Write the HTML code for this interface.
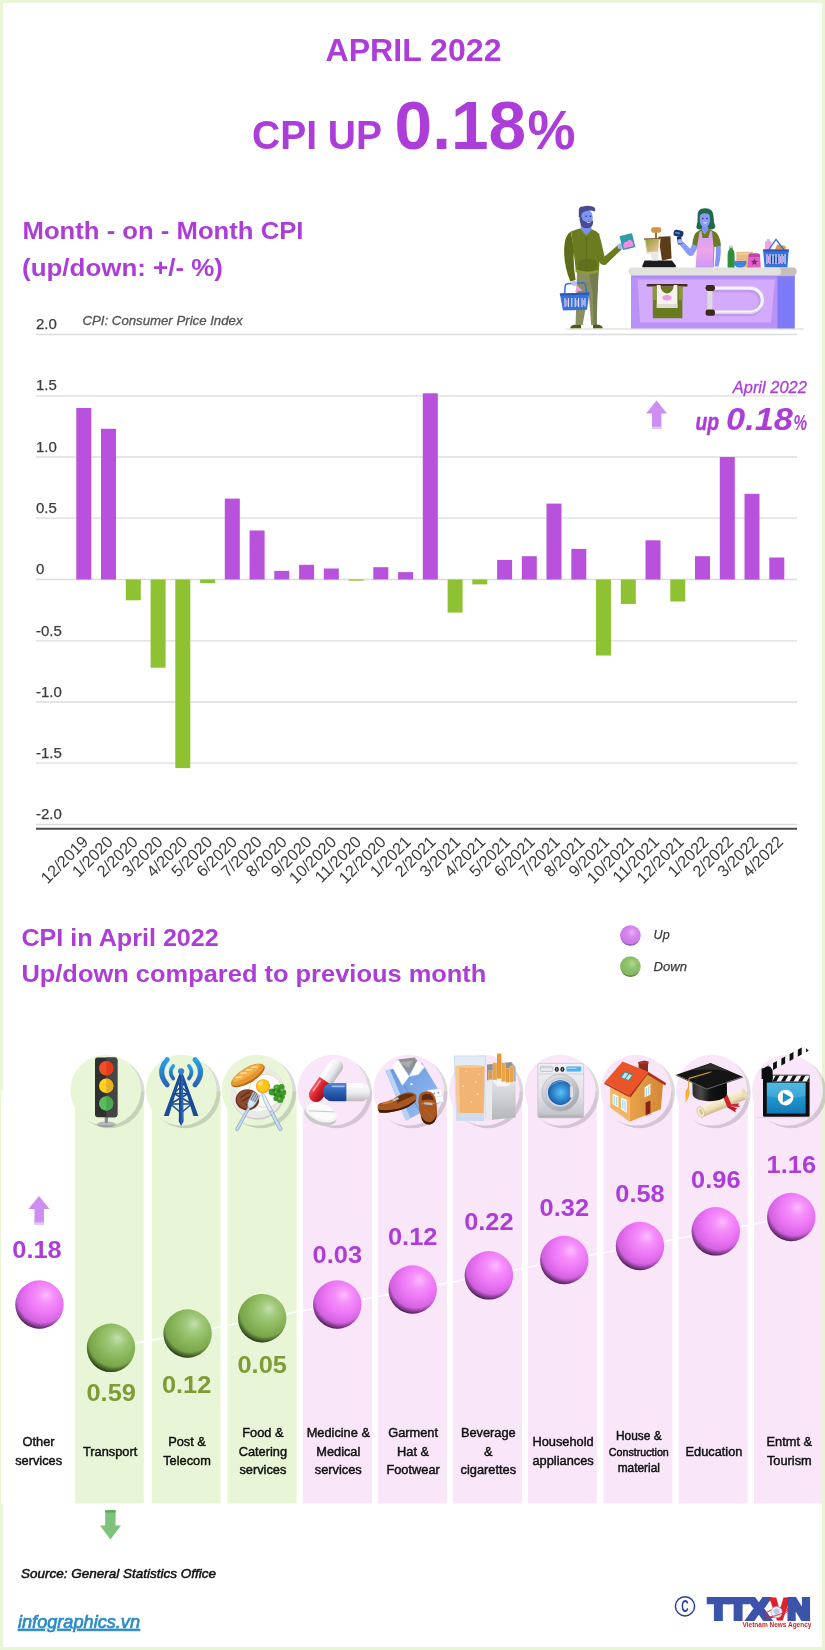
<!DOCTYPE html>
<html lang="en"><head><meta charset="utf-8"><title>April 2022 CPI up 0.18%</title>
<style>html,body{margin:0;padding:0;background:#fff}body{width:825px;height:1650px;overflow:hidden}svg{display:block;filter:grayscale(0)}text{font-family:'Liberation Sans', Arial, sans-serif}</style></head><body>
<svg width="825" height="1650" viewBox="0 0 825 1650">
<defs>
<radialGradient id="ballP" cx="0.6" cy="0.36" r="0.66" fx="0.64" fy="0.3">
<stop offset="0" stop-color="#fcbcfe"/><stop offset="0.25" stop-color="#f590fb"/><stop offset="0.55" stop-color="#ec76f5"/><stop offset="0.85" stop-color="#d060de"/><stop offset="1" stop-color="#b04ec0"/>
</radialGradient>
<radialGradient id="ballShade" cx="0.56" cy="0.36" r="0.7">
<stop offset="0" stop-color="#000" stop-opacity="0"/><stop offset="0.74" stop-color="#000" stop-opacity="0"/><stop offset="0.88" stop-color="#000" stop-opacity="0.4"/><stop offset="1" stop-color="#000" stop-opacity="0.92"/>
</radialGradient>
<radialGradient id="ballG" cx="0.6" cy="0.36" r="0.66" fx="0.64" fy="0.3">
<stop offset="0" stop-color="#c4dfb0"/><stop offset="0.25" stop-color="#a2c97c"/><stop offset="0.55" stop-color="#8bb85c"/><stop offset="0.85" stop-color="#78a44a"/><stop offset="1" stop-color="#5e883a"/>
</radialGradient>
<radialGradient id="legP" cx="0.58" cy="0.36" r="0.62"><stop offset="0" stop-color="#e9b2f8"/><stop offset="0.35" stop-color="#d98af0"/><stop offset="1" stop-color="#c873e6"/></radialGradient>
<radialGradient id="legG" cx="0.58" cy="0.36" r="0.62"><stop offset="0" stop-color="#b4d89a"/><stop offset="0.35" stop-color="#93c570"/><stop offset="1" stop-color="#82b460"/></radialGradient>
<radialGradient id="legShade" cx="0.5" cy="0.38" r="0.66"><stop offset="0.78" stop-color="#000" stop-opacity="0"/><stop offset="1" stop-color="#000" stop-opacity="0.55"/></radialGradient>
<filter id="blur2" x="-20%" y="-20%" width="140%" height="140%"><feGaussianBlur stdDeviation="1.6"/></filter>
<filter id="blur1" x="-20%" y="-20%" width="140%" height="140%"><feGaussianBlur stdDeviation="0.7"/></filter>
<linearGradient id="arcB" x1="0" y1="0" x2="0" y2="1"><stop offset="0" stop-color="#2aa0e6"/><stop offset="1" stop-color="#2a63b6"/></linearGradient>
<linearGradient id="capW" x1="0" y1="0" x2="0" y2="1"><stop offset="0" stop-color="#ffffff"/><stop offset="0.55" stop-color="#ececee"/><stop offset="1" stop-color="#b9b9be"/></linearGradient>
<linearGradient id="capR" x1="0" y1="0" x2="0" y2="1"><stop offset="0" stop-color="#f0565a"/><stop offset="0.5" stop-color="#d81f2a"/><stop offset="1" stop-color="#9c1018"/></linearGradient>
<linearGradient id="capB" x1="0" y1="0" x2="0" y2="1"><stop offset="0" stop-color="#4e86d6"/><stop offset="0.5" stop-color="#2a5fb4"/><stop offset="1" stop-color="#173f86"/></linearGradient>
<linearGradient id="shirtG" x1="0" y1="0" x2="1" y2="1"><stop offset="0" stop-color="#5f92de"/><stop offset="0.6" stop-color="#86b0ea"/><stop offset="1" stop-color="#b5d0f3"/></linearGradient>
<linearGradient id="packG" x1="0" y1="0" x2="0" y2="1"><stop offset="0" stop-color="#e2e3e6"/><stop offset="1" stop-color="#b4b6ba"/></linearGradient>
<linearGradient id="wmBody" x1="0" y1="0" x2="0" y2="1"><stop offset="0" stop-color="#f2f2f5"/><stop offset="0.6" stop-color="#e0e1e6"/><stop offset="0.93" stop-color="#c4c6cc"/><stop offset="1" stop-color="#a4a6ac"/></linearGradient>
<linearGradient id="wmRing" x1="0" y1="0" x2="0.6" y2="1"><stop offset="0" stop-color="#ececef"/><stop offset="1" stop-color="#a6a8b0"/></linearGradient>
<radialGradient id="wmGlass" cx="0.52" cy="0.5" r="0.55"><stop offset="0" stop-color="#5cc4f4"/><stop offset="0.55" stop-color="#2f86cf"/><stop offset="1" stop-color="#1a55a4"/></radialGradient>
<linearGradient id="houseG" x1="0" y1="0" x2="1" y2="0"><stop offset="0" stop-color="#e9a24a"/><stop offset="1" stop-color="#d48836"/></linearGradient>
<linearGradient id="scrollG" x1="0" y1="0" x2="0" y2="1"><stop offset="0" stop-color="#fbf3e0"/><stop offset="0.6" stop-color="#efdfba"/><stop offset="1" stop-color="#cdb588"/></linearGradient>
<linearGradient id="capBase" x1="0" y1="0" x2="1" y2="0"><stop offset="0" stop-color="#2a2a2a"/><stop offset="0.25" stop-color="#4a4a4a"/><stop offset="0.5" stop-color="#141414"/><stop offset="1" stop-color="#0a0a0a"/></linearGradient>
<linearGradient id="clapScreen" x1="0" y1="0" x2="0" y2="1"><stop offset="0" stop-color="#37b0e0"/><stop offset="0.5" stop-color="#1f97cf"/><stop offset="1" stop-color="#1579b4"/></linearGradient>
<linearGradient id="scrG" x1="0" y1="0" x2="1" y2="1"><stop offset="0" stop-color="#8f9f3c"/><stop offset="0.5" stop-color="#c3b06a"/><stop offset="1" stop-color="#edc4a6"/></linearGradient>
<linearGradient id="apronG" x1="0" y1="0" x2="0" y2="1"><stop offset="0" stop-color="#cfa2f4"/><stop offset="0.55" stop-color="#f0a4ea"/><stop offset="1" stop-color="#c99af4"/></linearGradient>
<filter id="blur03" x="-10%" y="-10%" width="120%" height="120%"><feGaussianBlur stdDeviation="0.35"/></filter>
</defs>

<rect x="0" y="0" width="825" height="1650" fill="#e8f6d7"/>
<rect x="3" y="3" width="819" height="1644" fill="#fff"/>
<g fill="#ad3dd8" font-weight="bold">
<text x="413.5" y="61.3" font-size="31" text-anchor="middle" textLength="176" lengthAdjust="spacingAndGlyphs">APRIL 2022</text>
<text x="252" y="148.6" font-size="41.4" textLength="130" lengthAdjust="spacingAndGlyphs">CPI UP</text>
<text x="394.6" y="149.4" font-size="68.6" textLength="131.6" lengthAdjust="spacingAndGlyphs">0.18</text>
<text x="527.4" y="149" font-size="56" textLength="48" lengthAdjust="spacingAndGlyphs">%</text>
<text x="22.5" y="239.3" font-size="24" textLength="281" lengthAdjust="spacingAndGlyphs">Month - on - Month CPI</text>
<text x="22" y="276" font-size="24" textLength="201" lengthAdjust="spacingAndGlyphs">(up/down: +/- %)</text>
</g>
<g stroke="#dcdcdc" stroke-width="1.3">
<line x1="36" x2="797" y1="334.5" y2="334.5"/>
<line x1="36" x2="797" y1="395.8" y2="395.8"/>
<line x1="36" x2="797" y1="457.0" y2="457.0"/>
<line x1="36" x2="797" y1="518.2" y2="518.2"/>
<line x1="36" x2="797" y1="579.5" y2="579.5"/>
<line x1="36" x2="797" y1="640.8" y2="640.8"/>
<line x1="36" x2="797" y1="702.0" y2="702.0"/>
<line x1="36" x2="797" y1="763.2" y2="763.2"/>
<line x1="36" x2="797" y1="824.5" y2="824.5"/>
</g>
<line x1="36" x2="797" y1="828.8" y2="828.8" stroke="#4a4a4a" stroke-width="1.9"/>
<g font-size="15" fill="#3c3c3c" stroke="#3c3c3c" stroke-width="0.25">
<text x="36" y="329.2">2.0</text>
<text x="36" y="390.4">1.5</text>
<text x="36" y="451.7">1.0</text>
<text x="36" y="513.0">0.5</text>
<text x="36" y="574.2">0</text>
<text x="36" y="635.5">-0.5</text>
<text x="36" y="696.7">-1.0</text>
<text x="36" y="758.0">-1.5</text>
<text x="36" y="819.2">-2.0</text>
</g>
<text x="82.5" y="325" font-size="12.6" font-style="italic" fill="#555" stroke="#555" stroke-width="0.3" textLength="160" lengthAdjust="spacingAndGlyphs">CPI: Consumer Price Index</text>
<rect x="76.3" y="408.0" width="15.0" height="171.5" fill="#b852dc"/>
<rect x="101.0" y="428.8" width="15.0" height="150.7" fill="#b852dc"/>
<rect x="125.8" y="579.5" width="15.0" height="20.8" fill="#8fc232"/>
<rect x="150.6" y="579.5" width="15.0" height="88.2" fill="#8fc232"/>
<rect x="175.3" y="579.5" width="15.0" height="188.6" fill="#8fc232"/>
<rect x="200.1" y="579.5" width="15.0" height="3.7" fill="#8fc232"/>
<rect x="224.8" y="498.6" width="15.0" height="80.9" fill="#b852dc"/>
<rect x="249.6" y="530.5" width="15.0" height="49.0" fill="#b852dc"/>
<rect x="274.3" y="570.9" width="15.0" height="8.6" fill="#b852dc"/>
<rect x="299.1" y="564.8" width="15.0" height="14.7" fill="#b852dc"/>
<rect x="323.8" y="568.5" width="15.0" height="11.0" fill="#b852dc"/>
<rect x="348.6" y="579.5" width="15.0" height="1.2" fill="#8fc232"/>
<rect x="373.3" y="567.2" width="15.0" height="12.2" fill="#b852dc"/>
<rect x="398.1" y="572.1" width="15.0" height="7.4" fill="#b852dc"/>
<rect x="422.8" y="393.3" width="15.0" height="186.2" fill="#b852dc"/>
<rect x="447.6" y="579.5" width="15.0" height="33.1" fill="#8fc232"/>
<rect x="472.3" y="579.5" width="15.0" height="4.9" fill="#8fc232"/>
<rect x="497.1" y="559.9" width="15.0" height="19.6" fill="#b852dc"/>
<rect x="521.8" y="556.2" width="15.0" height="23.3" fill="#b852dc"/>
<rect x="546.5" y="503.6" width="15.0" height="75.9" fill="#b852dc"/>
<rect x="571.3" y="548.9" width="15.0" height="30.6" fill="#b852dc"/>
<rect x="596.0" y="579.5" width="15.0" height="76.0" fill="#8fc232"/>
<rect x="620.8" y="579.5" width="15.0" height="24.5" fill="#8fc232"/>
<rect x="645.5" y="540.3" width="15.0" height="39.2" fill="#b852dc"/>
<rect x="670.3" y="579.5" width="15.0" height="22.0" fill="#8fc232"/>
<rect x="695.0" y="556.2" width="15.0" height="23.3" fill="#b852dc"/>
<rect x="719.8" y="457.0" width="15.0" height="122.5" fill="#b852dc"/>
<rect x="744.5" y="493.8" width="15.0" height="85.8" fill="#b852dc"/>
<rect x="769.3" y="557.5" width="15.0" height="22.0" fill="#b852dc"/>
<g font-size="16.3" fill="#3c3c3c" text-anchor="end">
<text transform="translate(89.2,842.8) rotate(-45)" x="0" y="0">12/2019</text>
<text transform="translate(114.0,842.8) rotate(-45)" x="0" y="0">1/2020</text>
<text transform="translate(138.8,842.8) rotate(-45)" x="0" y="0">2/2020</text>
<text transform="translate(163.7,842.8) rotate(-45)" x="0" y="0">3/2020</text>
<text transform="translate(188.5,842.8) rotate(-45)" x="0" y="0">4/2020</text>
<text transform="translate(213.3,842.8) rotate(-45)" x="0" y="0">5/2020</text>
<text transform="translate(238.1,842.8) rotate(-45)" x="0" y="0">6/2020</text>
<text transform="translate(262.9,842.8) rotate(-45)" x="0" y="0">7/2020</text>
<text transform="translate(287.8,842.8) rotate(-45)" x="0" y="0">8/2020</text>
<text transform="translate(312.6,842.8) rotate(-45)" x="0" y="0">9/2020</text>
<text transform="translate(337.4,842.8) rotate(-45)" x="0" y="0">10/2020</text>
<text transform="translate(362.2,842.8) rotate(-45)" x="0" y="0">11/2020</text>
<text transform="translate(387.0,842.8) rotate(-45)" x="0" y="0">12/2020</text>
<text transform="translate(411.9,842.8) rotate(-45)" x="0" y="0">1/2021</text>
<text transform="translate(436.7,842.8) rotate(-45)" x="0" y="0">2/2021</text>
<text transform="translate(461.5,842.8) rotate(-45)" x="0" y="0">3/2021</text>
<text transform="translate(486.3,842.8) rotate(-45)" x="0" y="0">4/2021</text>
<text transform="translate(511.1,842.8) rotate(-45)" x="0" y="0">5/2021</text>
<text transform="translate(536.0,842.8) rotate(-45)" x="0" y="0">6/2021</text>
<text transform="translate(560.8,842.8) rotate(-45)" x="0" y="0">7/2021</text>
<text transform="translate(585.6,842.8) rotate(-45)" x="0" y="0">8/2021</text>
<text transform="translate(610.4,842.8) rotate(-45)" x="0" y="0">9/2021</text>
<text transform="translate(635.2,842.8) rotate(-45)" x="0" y="0">10/2021</text>
<text transform="translate(660.1,842.8) rotate(-45)" x="0" y="0">11/2021</text>
<text transform="translate(684.9,842.8) rotate(-45)" x="0" y="0">12/2021</text>
<text transform="translate(709.7,842.8) rotate(-45)" x="0" y="0">1/2022</text>
<text transform="translate(734.5,842.8) rotate(-45)" x="0" y="0">2/2022</text>
<text transform="translate(759.3,842.8) rotate(-45)" x="0" y="0">3/2022</text>
<text transform="translate(784.2,842.8) rotate(-45)" x="0" y="0">4/2022</text>
</g>
<g fill="#ad3dd8" font-style="italic">
<text x="732.8" y="392.9" font-size="15.7" textLength="74" lengthAdjust="spacingAndGlyphs" stroke="#ad3dd8" stroke-width="0.3">April 2022</text>
<text x="695.4" y="429.8" font-size="24.5" font-weight="bold" textLength="23.6" lengthAdjust="spacingAndGlyphs" stroke="#ad3dd8" stroke-width="0.5">up</text>
<text x="726" y="429.6" font-size="31.5" font-weight="bold" textLength="67" lengthAdjust="spacingAndGlyphs">0.18</text>
<text x="793.4" y="429.6" font-size="21.5" font-weight="bold" textLength="13.6" lengthAdjust="spacingAndGlyphs">%</text>
<path d="M656.6 400.5 L667 413.5 L661.4 413.5 L661.4 428.8 L652 428.8 L652 413.5 L646 413.5 Z" fill="#cd8df3"/>
<rect x="652" y="426.6" width="9.4" height="2.2" fill="#e6c6fa"/>
</g>
<g fill="#ad3dd8" font-weight="bold" font-size="24">
<text x="21.4" y="945.6" textLength="197.4" lengthAdjust="spacingAndGlyphs">CPI in April 2022</text>
<text x="21.4" y="982" textLength="465" lengthAdjust="spacingAndGlyphs">Up/down compared to previous month</text>
</g>
<circle cx="630.4" cy="935.5" r="10.3" fill="url(#legP)"/><circle cx="630.4" cy="935.5" r="10.3" fill="url(#legShade)"/>
<circle cx="630.4" cy="966.6" r="10.3" fill="url(#legG)"/><circle cx="630.4" cy="966.6" r="10.3" fill="url(#legShade)"/>
<g font-size="12.8" font-style="italic" fill="#3a3a3a" stroke="#3a3a3a" stroke-width="0.25"><text x="653.6" y="938.7" textLength="16" lengthAdjust="spacingAndGlyphs">Up</text><text x="653.6" y="970.6" textLength="33.4" lengthAdjust="spacingAndGlyphs">Down</text></g>
<rect x="1" y="1091" width="74" height="413" fill="#fff"/>
<rect x="74.8" y="1091.4" width="69.0" height="412.1" fill="#e8f6d7"/>
<rect x="151.7" y="1091.4" width="69.0" height="412.1" fill="#e8f6d7"/>
<rect x="227.6" y="1091.4" width="69.0" height="412.1" fill="#e8f6d7"/>
<rect x="303.0" y="1091.4" width="69.0" height="412.1" fill="#f9e6f9"/>
<rect x="377.8" y="1091.4" width="69.0" height="412.1" fill="#f9e6f9"/>
<rect x="453.0" y="1091.4" width="69.0" height="412.1" fill="#f9e6f9"/>
<rect x="527.8" y="1091.4" width="69.0" height="412.1" fill="#f9e6f9"/>
<rect x="603.5" y="1091.4" width="69.0" height="412.1" fill="#f9e6f9"/>
<rect x="678.7" y="1091.4" width="69.0" height="412.1" fill="#f9e6f9"/>
<rect x="754.0" y="1091.4" width="68.0" height="412.1" fill="#f9e6f9"/>
<circle cx="109.3" cy="1092.9" r="35.4" fill="#000" opacity="0.14" filter="url(#blur03)"/>
<circle cx="105.7" cy="1090.2" r="35.4" fill="#e8f6d7"/>
<circle cx="185.0" cy="1092.9" r="35.4" fill="#000" opacity="0.14" filter="url(#blur03)"/>
<circle cx="181.4" cy="1090.2" r="35.4" fill="#e8f6d7"/>
<circle cx="260.8" cy="1092.9" r="35.4" fill="#000" opacity="0.14" filter="url(#blur03)"/>
<circle cx="257.2" cy="1090.2" r="35.4" fill="#e8f6d7"/>
<circle cx="336.6" cy="1092.9" r="35.4" fill="#000" opacity="0.14" filter="url(#blur03)"/>
<circle cx="332.9" cy="1090.2" r="35.4" fill="#f9e6f9"/>
<circle cx="412.3" cy="1092.9" r="35.4" fill="#000" opacity="0.14" filter="url(#blur03)"/>
<circle cx="408.7" cy="1090.2" r="35.4" fill="#f9e6f9"/>
<circle cx="488.1" cy="1092.9" r="35.4" fill="#000" opacity="0.14" filter="url(#blur03)"/>
<circle cx="484.4" cy="1090.2" r="35.4" fill="#f9e6f9"/>
<circle cx="563.8" cy="1092.9" r="35.4" fill="#000" opacity="0.14" filter="url(#blur03)"/>
<circle cx="560.2" cy="1090.2" r="35.4" fill="#f9e6f9"/>
<circle cx="639.6" cy="1092.9" r="35.4" fill="#000" opacity="0.14" filter="url(#blur03)"/>
<circle cx="636.0" cy="1090.2" r="35.4" fill="#f9e6f9"/>
<circle cx="715.3" cy="1092.9" r="35.4" fill="#000" opacity="0.14" filter="url(#blur03)"/>
<circle cx="711.7" cy="1090.2" r="35.4" fill="#f9e6f9"/>
<circle cx="791.1" cy="1092.9" r="35.4" fill="#000" opacity="0.14" filter="url(#blur03)"/>
<circle cx="787.5" cy="1090.2" r="35.4" fill="#f9e6f9"/>
<polyline fill="none" stroke="#fff" stroke-width="1.5" points="111.0,1347.8 187.6,1333.5 262.2,1318.2 337.3,1304.5 412.7,1289.5 488.9,1275.3 564.3,1260.0 640.0,1246.0 715.8,1231.3 791.3,1217.0"/>
<circle cx="39.5" cy="1304.5" r="24.2" fill="url(#ballP)"/>
<circle cx="39.5" cy="1304.5" r="24.2" fill="url(#ballShade)"/>
<circle cx="111.0" cy="1347.8" r="24.2" fill="url(#ballG)"/>
<circle cx="111.0" cy="1347.8" r="24.2" fill="url(#ballShade)"/>
<circle cx="187.6" cy="1333.5" r="24.2" fill="url(#ballG)"/>
<circle cx="187.6" cy="1333.5" r="24.2" fill="url(#ballShade)"/>
<circle cx="262.2" cy="1318.2" r="24.2" fill="url(#ballG)"/>
<circle cx="262.2" cy="1318.2" r="24.2" fill="url(#ballShade)"/>
<circle cx="337.3" cy="1304.5" r="24.2" fill="url(#ballP)"/>
<circle cx="337.3" cy="1304.5" r="24.2" fill="url(#ballShade)"/>
<circle cx="412.7" cy="1289.5" r="24.2" fill="url(#ballP)"/>
<circle cx="412.7" cy="1289.5" r="24.2" fill="url(#ballShade)"/>
<circle cx="488.9" cy="1275.3" r="24.2" fill="url(#ballP)"/>
<circle cx="488.9" cy="1275.3" r="24.2" fill="url(#ballShade)"/>
<circle cx="564.3" cy="1260.0" r="24.2" fill="url(#ballP)"/>
<circle cx="564.3" cy="1260.0" r="24.2" fill="url(#ballShade)"/>
<circle cx="640.0" cy="1246.0" r="24.2" fill="url(#ballP)"/>
<circle cx="640.0" cy="1246.0" r="24.2" fill="url(#ballShade)"/>
<circle cx="715.8" cy="1231.3" r="24.2" fill="url(#ballP)"/>
<circle cx="715.8" cy="1231.3" r="24.2" fill="url(#ballShade)"/>
<circle cx="791.3" cy="1217.0" r="24.2" fill="url(#ballP)"/>
<circle cx="791.3" cy="1217.0" r="24.2" fill="url(#ballShade)"/>
<text x="37.0" y="1257.9" font-size="23" font-weight="bold" fill="#ad3dd8" text-anchor="middle" textLength="49.4" lengthAdjust="spacingAndGlyphs">0.18</text>
<text x="111.2" y="1400.6" font-size="23" font-weight="bold" fill="#7d9c35" text-anchor="middle" textLength="49.4" lengthAdjust="spacingAndGlyphs">0.59</text>
<text x="186.6" y="1392.8" font-size="23" font-weight="bold" fill="#7d9c35" text-anchor="middle" textLength="49.4" lengthAdjust="spacingAndGlyphs">0.12</text>
<text x="262.2" y="1372.9" font-size="23" font-weight="bold" fill="#7d9c35" text-anchor="middle" textLength="49.4" lengthAdjust="spacingAndGlyphs">0.05</text>
<text x="337.3" y="1263.4" font-size="23" font-weight="bold" fill="#ad3dd8" text-anchor="middle" textLength="49.4" lengthAdjust="spacingAndGlyphs">0.03</text>
<text x="412.7" y="1244.8" font-size="23" font-weight="bold" fill="#ad3dd8" text-anchor="middle" textLength="49.4" lengthAdjust="spacingAndGlyphs">0.12</text>
<text x="488.9" y="1230.4" font-size="23" font-weight="bold" fill="#ad3dd8" text-anchor="middle" textLength="49.4" lengthAdjust="spacingAndGlyphs">0.22</text>
<text x="564.3" y="1216.4" font-size="23" font-weight="bold" fill="#ad3dd8" text-anchor="middle" textLength="49.4" lengthAdjust="spacingAndGlyphs">0.32</text>
<text x="640.0" y="1202.0" font-size="23" font-weight="bold" fill="#ad3dd8" text-anchor="middle" textLength="49.4" lengthAdjust="spacingAndGlyphs">0.58</text>
<text x="715.8" y="1187.5" font-size="23" font-weight="bold" fill="#ad3dd8" text-anchor="middle" textLength="49.4" lengthAdjust="spacingAndGlyphs">0.96</text>
<text x="791.3" y="1173.1" font-size="23" font-weight="bold" fill="#ad3dd8" text-anchor="middle" textLength="49.4" lengthAdjust="spacingAndGlyphs">1.16</text>
<g font-size="12.8" fill="#111" text-anchor="middle" stroke="#111" stroke-width="0.45">
<text x="38.6" y="1446.2">Other</text>
<text x="38.6" y="1464.8">services</text>
<text x="110.1" y="1455.5">Transport</text>
<text x="187.0" y="1446.2">Post &amp;</text>
<text x="187.0" y="1464.8">Telecom</text>
<text x="262.9" y="1436.9">Food &amp;</text>
<text x="262.9" y="1455.5">Catering</text>
<text x="262.9" y="1474.1">services</text>
<text x="338.3" y="1436.9">Medicine &amp;</text>
<text x="338.3" y="1455.5">Medical</text>
<text x="338.3" y="1474.1">services</text>
<text x="413.1" y="1436.9">Garment</text>
<text x="413.1" y="1455.5">Hat &amp;</text>
<text x="413.1" y="1474.1">Footwear</text>
<text x="488.3" y="1436.9">Beverage</text>
<text x="488.3" y="1455.5">&amp;</text>
<text x="488.3" y="1474.1">cigarettes</text>
<text x="563.1" y="1446.2">Household</text>
<text x="563.1" y="1464.8">appliances</text>
<text x="638.8" y="1439.5" font-size="11.9">House &amp;</text>
<text x="638.8" y="1455.5" font-size="10.7">Construction</text>
<text x="638.8" y="1471.5" font-size="11.9">material</text>
<text x="714.0" y="1455.5">Education</text>
<text x="789.3" y="1446.2">Entmt &amp;</text>
<text x="789.3" y="1464.8">Tourism</text>
</g>
<path d="M39 1196 L49.5 1209 L44 1209 L44 1224.5 L34.5 1224.5 L34.5 1209 L28.5 1209 Z" fill="#cd8df3"/>
<rect x="34.5" y="1222.3" width="9.5" height="2.2" fill="#e6c6fa"/>
<path d="M110.4 1539.4 L121 1525.4 L115.6 1525.4 L115.6 1510.2 L105.2 1510.2 L105.2 1525.4 L100 1525.4 Z" fill="#7cc37c"/>
<rect x="105.2" y="1510.2" width="10.4" height="2.4" fill="#5fa662"/>
<text x="21" y="1578.4" font-size="13.2" font-style="italic" fill="#111" stroke="#111" stroke-width="0.5" textLength="195" lengthAdjust="spacingAndGlyphs">Source: General Statistics Office</text>
<text x="18" y="1628" font-size="18.4" font-style="italic" fill="#2b8bc9" stroke="#2b8bc9" stroke-width="0.7" textLength="122" lengthAdjust="spacingAndGlyphs" text-decoration="underline">infographics.vn</text>
<!-- traffic light -->
<g>
<ellipse cx="106.3" cy="1124.6" rx="9.4" ry="2.6" fill="#9a9a9e"/>
<path d="M97 1125.2 Q97 1121.6 106.3 1121.6 Q115.6 1121.6 115.6 1125.2 Z" fill="#b9b9bd"/>
<rect x="104.7" y="1116" width="3.3" height="7" fill="#8e8e92"/>
<rect x="95" y="1057.6" width="22.4" height="59.6" rx="2.4" fill="#2f2f2f"/>
<path d="M106.2 1057.6 H115 Q117.4 1057.6 117.4 1060 V1114.8 Q117.4 1117.2 115 1117.2 H106.2 Z" fill="#454545"/>
<circle cx="106.2" cy="1068.3" r="7.2" fill="#f04e23"/><path d="M106.2 1061.1 A7.2 7.2 0 0 1 106.2 1075.5 Z" fill="#e23c1c"/>
<circle cx="106.2" cy="1085.8" r="7.2" fill="#ffd41c"/><path d="M106.2 1078.6 A7.2 7.2 0 0 1 106.2 1093 Z" fill="#e9b022"/>
<circle cx="106.2" cy="1103.5" r="7.2" fill="#5cbb5c"/><path d="M106.2 1096.3 A7.2 7.2 0 0 1 106.2 1110.7 Z" fill="#47a84d"/>
</g>
<!-- telecom tower -->
<g>
<g fill="none" stroke-linecap="round" stroke-width="4.3">
<path d="M167.2 1059.6 Q156.2 1072 167.2 1084.8" stroke="url(#arcB)" stroke-width="5"/>
<path d="M195 1059.6 Q206 1072 195 1084.8" stroke="url(#arcB)" stroke-width="5"/>
<path d="M173.2 1066 Q168.2 1072 173.2 1078.4" stroke="url(#arcB)" stroke-width="3.8"/>
<path d="M189 1066 Q194 1072 189 1078.4" stroke="url(#arcB)" stroke-width="3.8"/>
</g>
<g fill="none" stroke="#1d4b98" stroke-linejoin="round">
<path d="M179 1074.5 L181.4 1074.5 L168.8 1116 L163.8 1116 Z M180.8 1074.5 L183.2 1074.5 L198.4 1116 L193.4 1116 Z" fill="#1d4b98" stroke="none"/>
<path d="M176.6 1083.5 L185.8 1083.5 M173.2 1093.5 L189 1093.5 M169.6 1104 L192.6 1104" stroke-width="1.5"/>
<path d="M177.6 1083.5 L188.6 1093.5 M184.8 1083.5 L173.6 1093.5 M174 1093.5 L192 1104 M188.2 1093.5 L170.2 1104 M170.6 1104 L181.1 1113 M191.6 1104 L181.1 1113" stroke-width="1.6"/>
</g>
<path d="M179.4 1072 L182.8 1072 L183.4 1121.5 L181.1 1125.8 L178.8 1121.5 Z" fill="#1b4792"/>
<path d="M181.1 1072 L182.8 1072 L183.4 1121.5 L181.1 1125.8 Z" fill="#2a62b8"/>
<circle cx="181.1" cy="1071.3" r="3.1" fill="#3a7ed0"/>
</g>
<!-- food -->
<g>
<circle cx="257.6" cy="1092.8" r="26.9" fill="#cfcfcc"/>
<circle cx="256.9" cy="1091.4" r="26.6" fill="#eaeae7"/>
<circle cx="256.9" cy="1091.4" r="20.5" fill="#fbfbf9" stroke="#e4e4e0" stroke-width="0.8"/>
<!-- egg white -->
<path d="M250 1086 Q251 1075 262 1074.5 Q273 1073 278.4 1080.6 Q284.6 1088 280 1097 Q278 1106.6 267 1107 Q257.6 1108.4 252.4 1101 Q247 1093 250 1086 Z" fill="#fffefa" stroke="#eadcc0" stroke-width="1"/>
<circle cx="263" cy="1086.2" r="7" fill="#f3a313"/>
<circle cx="262.8" cy="1085.9" r="6" fill="#ffc617"/>
<ellipse cx="260.6" cy="1083.4" rx="2.6" ry="1.8" fill="#ffe27a" transform="rotate(-30 260.6 1083.4)"/>
<!-- bread -->
<g transform="translate(0 -0.8) rotate(-31 247.6 1075.8) translate(247.6 1075.8) scale(1.04) translate(-247.6 -1075.8)">
<ellipse cx="247.6" cy="1076.6" rx="18.3" ry="7" fill="#b4661a"/>
<ellipse cx="247.6" cy="1075.4" rx="18" ry="6.4" fill="#e8962b"/>
<ellipse cx="247.6" cy="1073.6" rx="15" ry="3.6" fill="#f3b04a"/>
<path d="M237 1072.2 l4.6 2.2 M243 1071.2 l4.6 2.4 M249 1071 l4.6 2.4 M255 1071.6 l4 2.2" stroke="#fbe0a0" stroke-width="1.5" stroke-linecap="round"/>
</g>
<!-- steak -->
<ellipse cx="247.4" cy="1099.8" rx="11.8" ry="10.6" fill="#6b3418"/>
<ellipse cx="247.2" cy="1099.2" rx="10.4" ry="9.2" fill="#8c4a2c"/>
<path d="M241 1097 l8 -5 M243 1101 l9 -5.6 M246.5 1104.6 l7.5 -4.6" stroke="#5a2a14" stroke-width="1.3" stroke-linecap="round"/>
<!-- greens -->
<g fill="#3f9a2b">
<circle cx="272" cy="1092" r="3.4"/><circle cx="277" cy="1088" r="3.6"/><circle cx="281.6" cy="1087" r="3"/><circle cx="283" cy="1092.5" r="3.2"/>
<circle cx="278.6" cy="1094" r="3.6"/><circle cx="280" cy="1099.5" r="3.4"/><circle cx="276" cy="1098.6" r="2.6"/><circle cx="282.6" cy="1097" r="2.4"/>
</g>
<g fill="#2c7d20"><circle cx="279" cy="1091" r="1.8"/><circle cx="275" cy="1095" r="1.6"/><circle cx="281" cy="1096" r="1.5"/><circle cx="273.6" cy="1090.4" r="1.3"/></g>
<g fill="#6cbf45"><circle cx="276.4" cy="1087" r="1.3"/><circle cx="282" cy="1090" r="1.2"/><circle cx="279.4" cy="1098.6" r="1.2"/></g>
<!-- fork -->
<g transform="translate(236.5 1130.3) rotate(29)">
<path d="M-1.5 -1 Q0 1.6 1.5 -1 L1 -27 L-1 -27 Z" fill="#c9d9ec" stroke="#86a6cc" stroke-width="0.7"/>
<path d="M-1 -26 Q-3.6 -28 -3.7 -32 L-3.9 -42 L-2.8 -42 L-2.6 -33.4 L-1.7 -33.4 L-1.55 -42 L-0.5 -42 L-0.45 -33.4 L0.45 -33.4 L0.5 -42 L1.55 -42 L1.7 -33.4 L2.6 -33.4 L2.8 -42 L3.9 -42 L3.7 -32 Q3.6 -28 1 -26 Z" fill="#dbe7f5" stroke="#86a6cc" stroke-width="0.6"/>
</g>
<!-- knife -->
<g transform="translate(281.1 1130.3) rotate(-27.9)">
<path d="M-1.7 -1 Q0 1.8 1.7 -1 L1.5 -22 L-1.5 -22 Z" fill="#c9d9ec" stroke="#86a6cc" stroke-width="0.7"/>
<path d="M-1.5 -21.6 L1.7 -21.6 L2 -38 Q1.8 -41.6 0.2 -43 Q-2.6 -33 -1.5 -21.6 Z" fill="#e6eef8" stroke="#86a6cc" stroke-width="0.6"/>
</g>
</g>

<!-- pills -->
<g>
<!-- tablet -->
<g transform="rotate(19 321.4 1112.4)">
<ellipse cx="321.4" cy="1115.6" rx="16.6" ry="9.4" fill="#c9c9cc"/>
<ellipse cx="321.4" cy="1112.2" rx="16.6" ry="9.2" fill="#f4f4f5"/>
<ellipse cx="321.4" cy="1111.6" rx="14.4" ry="7.4" fill="#fbfbfc"/>
<path d="M309 1115 L334 1107.6" stroke="#cfcfd2" stroke-width="1.2"/>
</g>
<!-- red/white capsule -->
<g transform="translate(325.6 1081) rotate(-55.5)">
<path d="M0 -7.4 H18 A7.4 7.4 0 0 1 18 7.4 H0 Z" fill="url(#capW)"/>
<path d="M0 -7.4 H-16.6 A7.4 7.4 0 0 0 -16.6 7.4 H0 Z" fill="url(#capR)"/>
<path d="M-15 -4.6 H-3" stroke="#fff" stroke-opacity="0.55" stroke-width="1.6" stroke-linecap="round"/>
<path d="M3 -4.6 H17" stroke="#fff" stroke-opacity="0.9" stroke-width="1.8" stroke-linecap="round"/>
</g>
<!-- blue/white capsule -->
<g transform="translate(346.4 1092.1)">
<path d="M0 -9.2 H14.6 A9.2 9.2 0 0 1 14.6 9.2 H0 Z" fill="url(#capW)"/>
<path d="M0 -9.2 H-14.4 A9.2 9.2 0 0 0 -14.4 9.2 H0 Z" fill="url(#capB)"/>
<path d="M-14 -5.8 H-2.4" stroke="#fff" stroke-opacity="0.5" stroke-width="1.8" stroke-linecap="round"/>
<path d="M3 -5.8 H15" stroke="#fff" stroke-opacity="0.95" stroke-width="2" stroke-linecap="round"/>
</g>
</g>
<!-- garment: shirt + shoes -->
<g>
<path d="M385.6 1070.4 L422.4 1063.2 L444.8 1100.2 L406 1120.8 Z" fill="url(#shirtG)"/>
<path d="M385.6 1070.4 L390 1069.6 L410.4 1118.6 L406 1120.8 Z" fill="#b9d3f4"/>
<path d="M404 1085 L421 1112.8" stroke="#5a89d2" stroke-width="0.8" fill="none"/>
<!-- collar -->
<path d="M395.4 1064.4 L398 1059.4 L414.6 1057.4 L417.6 1060.8 L409 1073 Z" fill="#8f9093"/>
<path d="M399 1062.2 L413 1060.4 L408.6 1068 Z" fill="#a9aaad"/>
<path d="M391.4 1065.4 L398 1059.6 L409.2 1076.4 L402.4 1085.4 Z" fill="#ffffff" stroke="#dfe3ea" stroke-width="0.5"/>
<path d="M409.2 1076.4 L417.6 1060.4 L424.6 1066.8 L418.4 1074.6 Z" fill="#ffffff" stroke="#dfe3ea" stroke-width="0.5"/>
<circle cx="411.4" cy="1084.2" r="1.1" fill="#fff"/>
<!-- cuff -->
<path d="M427.6 1090.4 L441 1088.4 L444 1101.6 L431 1104.2 Z" fill="#fbfcfe" stroke="#d6dde8" stroke-width="0.5"/>
<circle cx="434.4" cy="1093.4" r="0.9" fill="#7f8fb0"/><circle cx="438.4" cy="1092.8" r="0.9" fill="#7f8fb0"/>
<path d="M433 1097.6 L441.6 1096" stroke="#c9d2e0" stroke-width="0.6"/>
<!-- left shoe (side) -->
<path d="M377.6 1107.6 Q377.4 1103.6 381.6 1102.8 Q391 1101.2 397 1096.6 Q402 1093 407 1092.4 Q413 1091.8 416 1094.6 Q417.4 1098 415.4 1101.4 Q410 1107.4 398.6 1110.4 Q386 1113.6 379.6 1112.6 Q377.4 1111 377.6 1107.6 Z" fill="#a9561f"/>
<path d="M378 1109.6 Q388 1111.2 399 1108.4 Q410 1105.4 415.8 1099.6 L415.4 1101.4 Q410 1107.4 398.6 1110.4 Q386 1113.6 379.6 1112.6 Z" fill="#3a1c0a"/>
<path d="M395.6 1098 Q401 1094.6 406.4 1093.6 Q412 1093 414.6 1095.4 Q410 1097 404.6 1099.6 Q399.6 1102 397.4 1103.6 Z" fill="#6b3210"/>
<path d="M383 1103.6 Q391 1102.6 397.6 1098.6" stroke="#cf7c3c" stroke-width="1.3" fill="none" stroke-linecap="round"/>
<rect x="392.4" y="1098.2" width="6.4" height="2.1" rx="0.6" fill="#b8bcc4" transform="rotate(-24 395.6 1099.2)"/>
<!-- right shoe (front/top) -->
<path d="M420.6 1093.6 Q424 1090.6 430 1091.8 Q434.4 1093.4 435.8 1100 Q437.8 1109 436.6 1116.4 Q435.6 1123 430 1124.4 Q424.4 1125 421.8 1119.4 Q418.6 1111 418.4 1102 Q418.4 1096 420.6 1093.6 Z" fill="#a9561f"/>
<path d="M421.8 1119.4 Q424.4 1125 430 1124.4 Q435.6 1123 436.6 1116.4 L436.8 1113 Q435 1121 430 1122.2 Q424.6 1122.6 421.4 1116 Z" fill="#3a1c0a"/>
<path d="M422.2 1095.6 Q425 1093 429.6 1094 Q433 1095.6 433.8 1100.6 Q429 1098.6 422 1100.6 Q421.4 1097.4 422.2 1095.6 Z" fill="#5e2b0e"/>
<path d="M421.4 1104 Q428 1101.4 434.6 1103.6" stroke="#cf7c3c" stroke-width="1.2" fill="none"/>
<rect x="424.2" y="1102.6" width="8.4" height="2.2" rx="0.6" fill="#b8bcc4" transform="rotate(6 428 1103.6)"/>
<path d="M423 1108 Q428.6 1112 432 1118" stroke="#c46f30" stroke-width="1" fill="none" opacity="0.7"/>
</g>
<!-- beverage & cigarettes -->
<g>
<!-- pack back -->
<path d="M487 1064.4 L511.6 1062 L515.6 1080 L487 1082 Z" fill="#8d9197"/>
<path d="M511.6 1062 L515.6 1067 L515.6 1082 L511.6 1080 Z" fill="#a9adb3"/>
<!-- cigarettes -->
<g>
<rect x="488.6" y="1070.6" width="3.8" height="14" fill="#f7f7f7"/><rect x="488.6" y="1070.6" width="3.8" height="9" fill="#e19a3c"/>
<rect x="492.8" y="1062.8" width="4" height="22" fill="#f7f7f7"/><rect x="492.8" y="1062.8" width="4" height="17" fill="#e9a446"/>
<rect x="497" y="1053.6" width="4.4" height="32" fill="#f7f7f7"/><rect x="497" y="1053.6" width="4.4" height="25" fill="#e19a3c"/>
<rect x="501.6" y="1063.6" width="4" height="22" fill="#f7f7f7"/><rect x="501.6" y="1063.6" width="4" height="18" fill="#e9a446"/>
<rect x="505.8" y="1068.4" width="3.8" height="17" fill="#f7f7f7"/><rect x="505.8" y="1068.4" width="3.8" height="14" fill="#e19a3c"/>
<rect x="509.8" y="1066.4" width="3.6" height="19" fill="#f7f7f7"/><rect x="509.8" y="1066.4" width="3.6" height="16" fill="#e9a446"/>
</g>
<!-- pack front -->
<path d="M485.6 1080.4 L492.6 1080.4 L497 1086.6 L508 1086.6 L512 1082.4 L515.6 1082.4 L515.6 1117.6 L492 1119.8 L485.6 1117.6 Z" fill="url(#packG)"/>
<path d="M485.6 1080.4 L492.2 1080.4 L492 1119.8 L485.6 1117.6 Z" fill="#e9eaec"/>
<!-- glass -->
<path d="M454.2 1056 L485.6 1056 L483.6 1120.4 L456.8 1120.4 Z" fill="#e3ecf6" stroke="#c4d3e6" stroke-width="0.7"/>
<path d="M455.4 1066.4 L484.6 1066.4 L483.6 1113 L457.2 1113 Z" fill="#f1b472"/>
<path d="M455.4 1066.4 L459 1066.4 L460 1113 L457.2 1113 Z" fill="#f7c995"/>
<ellipse cx="470" cy="1066.6" rx="14.6" ry="1.5" fill="#f6c48c"/>
<path d="M457.2 1113 L483.6 1113 L483.6 1120.4 L456.8 1120.4 Z" fill="#cfdcee"/>
<g fill="#fbe0c0"><circle cx="463" cy="1086" r="0.9"/><circle cx="475.6" cy="1082" r="0.8"/><circle cx="477.6" cy="1094" r="0.9"/><circle cx="471.4" cy="1102" r="0.8"/><circle cx="479" cy="1074.6" r="0.7"/><circle cx="466" cy="1071.6" r="0.7"/></g>
</g>

<!-- washing machine -->
<g>
<rect x="537.8" y="1063.4" width="45.8" height="54.4" rx="2.2" fill="url(#wmBody)" stroke="#b9bcc4" stroke-width="0.6"/>
<path d="M538 1074 H583.4" stroke="#c9ccd3" stroke-width="0.8"/>
<rect x="540.4" y="1066.2" width="12.4" height="5.2" rx="0.8" fill="#e9eaee" stroke="#b4b8c0" stroke-width="0.7"/>
<path d="M541.4 1067.6 H551.8" stroke="#c4c7ce" stroke-width="0.7"/>
<ellipse cx="556.8" cy="1069.2" rx="2" ry="2.5" fill="#1e1e22"/><ellipse cx="562.4" cy="1069.2" rx="2" ry="2.5" fill="#1e1e22"/>
<ellipse cx="556.8" cy="1069.2" rx="0.7" ry="1.6" fill="#8a8d94"/><ellipse cx="562.4" cy="1069.2" rx="0.7" ry="1.6" fill="#8a8d94"/>
<rect x="566.4" y="1066.6" width="14.8" height="4.8" rx="0.8" fill="#4db2f2" stroke="#8fc8ee" stroke-width="0.6"/>
<rect x="567.6" y="1067.6" width="9" height="1.4" fill="#9bd6fa"/>
<circle cx="560.3" cy="1092.6" r="18.4" fill="url(#wmRing)" stroke="#a9acb4" stroke-width="0.6"/>
<circle cx="560.3" cy="1092.6" r="14.4" fill="#d9dbe0" stroke="#b6b9c0" stroke-width="0.6"/>
<circle cx="560.3" cy="1092.6" r="12.4" fill="url(#wmGlass)"/>
<path d="M549.4 1088 A11.6 11.6 0 0 1 566 1082.6 A14 14 0 0 0 549.4 1088 Z" fill="#8fd0f6" opacity="0.55"/>
<rect x="570" y="1085.4" width="3.4" height="12.6" rx="1.6" fill="#e4e5e9" stroke="#a3a6ae" stroke-width="0.6"/>
</g>
<!-- house -->
<g>
<!-- chimney -->
<path d="M638.6 1063.6 L648 1062.4 L648 1072.4 L638.6 1068 Z" fill="#8e2a1a"/>
<path d="M638.2 1062 L644.4 1060.6 L648.6 1061.4 L648.6 1063.4 L643 1064.6 L638.2 1063.8 Z" fill="#a5362a"/>
<!-- front (left) wall -->
<path d="M610.2 1087 L629.6 1095 L629.6 1121.8 L610.2 1107.4 Z" fill="#f1b565"/>
<!-- gable wall -->
<path d="M629.6 1095 L647.4 1072.6 L663 1083.6 L660.8 1109.2 L629.6 1121.8 Z" fill="url(#houseG)"/>
<!-- roof left -->
<path d="M622.6 1061.4 L648.4 1072 L629.4 1095.6 L604.6 1082.2 Z" fill="#ea5428"/>
<path d="M604.6 1082.2 L629.4 1095.6 L629.8 1097.6 L604.4 1084 Z" fill="#b93a1a"/>
<!-- roof right edge -->
<path d="M648.4 1072 L666 1083 L665.2 1085.6 L647.4 1074.6 L630.4 1097.6 L629.4 1095.6 Z" fill="#a93018"/>
<!-- skylight -->
<path d="M624.4 1071 L633.4 1074.6 L628.8 1081 L619.8 1077 Z" fill="#4f8a92"/>
<path d="M625 1072.6 L628.2 1073.8 L624.6 1078.6 L621.6 1077.2 Z M629.2 1074.2 L632 1075.4 L628.4 1080 L625.6 1078.8 Z" fill="#bfe6f6"/>
<!-- windows front -->
<path d="M612.6 1093.6 L618.4 1096.2 L618.4 1107.6 L612.6 1104 Z M621 1097.4 L626.8 1100 L626.8 1113 L621 1109 Z" fill="#fff"/>
<path d="M613.6 1095.4 L615 1096 L615 1104.6 L613.6 1103.8 Z M616 1096.6 L617.4 1097.2 L617.4 1106 L616 1105.2 Z M622 1099.2 L623.4 1099.8 L623.4 1109.6 L622 1108.6 Z M624.4 1100.4 L625.8 1101 L625.8 1111.2 L624.4 1110.2 Z" fill="#a9dcf3"/>
<!-- window gable -->
<path d="M644.6 1087.6 L650.4 1083.6 L650.4 1094.4 L644.6 1097.4 Z" fill="#fff"/>
<path d="M645.6 1088.4 L647 1087.4 L647 1095.4 L645.6 1096.2 Z M648 1086.8 L649.4 1085.8 L649.4 1094 L648 1094.8 Z" fill="#a9dcf3"/>
<!-- door -->
<path d="M645.6 1102.6 L650.4 1100.4 L650.4 1113.6 L645.6 1115.6 Z" fill="#8a2416"/>
<path d="M645.6 1115.6 L650.4 1113.6 L652.4 1114 L646.6 1116.8 Z" fill="#c9c2b6"/>
</g>
<!-- graduation cap & diploma -->
<g>
<!-- scroll -->
<g transform="translate(722.4 1103) rotate(-22.6)">
<rect x="-24" y="-5.6" width="48" height="11.2" rx="2" fill="url(#scrollG)"/>
<ellipse cx="-23.4" cy="0" rx="3.4" ry="5.6" fill="#f6ecd6" stroke="#c9b48a" stroke-width="0.6"/>
<ellipse cx="-23.2" cy="0.2" rx="1.6" ry="3.2" fill="#d9c49c"/>
<ellipse cx="24" cy="0" rx="2.2" ry="5.6" fill="#e9dcbc"/>
<rect x="3" y="-6" width="4.6" height="12" fill="#d2232a"/>
<path d="M5 5 L11.6 10.4 L9.2 11.4 L8.8 14 L3 6 Z" fill="#b81b22"/>
<path d="M7 4.6 L15 6.6 L13.6 8.6 L15 10.6 L6 6.4 Z" fill="#d2232a"/>
</g>
<!-- cap base -->
<path d="M692.4 1081 L692.6 1094.4 Q694 1100.4 709.6 1101.2 Q725 1100.6 727 1094 L726.8 1080.4 Z" fill="url(#capBase)"/>
<!-- board -->
<path d="M676.2 1074.8 L710.6 1063 L742.8 1076.8 L706.8 1088.6 Z" fill="#151515"/>
<path d="M676.2 1074.8 L706.8 1088.6 L742.8 1076.8 L742.8 1077.8 L706.8 1089.8 L676.2 1075.8 Z" fill="#5a5a5a"/>
<path d="M690 1070.6 L710.6 1063.4 L730 1071.6 Q712 1068 690 1070.6 Z" fill="#2e2e2e"/>
<!-- tassel -->
<path d="M710.8 1072 L689 1078.4" stroke="#d9a21e" stroke-width="1.1" fill="none"/>
<circle cx="710.8" cy="1072" r="1.2" fill="#3a3a3a"/>
<path d="M689 1078.4 L688.2 1090" stroke="#d9a21e" stroke-width="1" fill="none"/>
<path d="M687.6 1088.4 Q689.8 1089 689.6 1092 Q689.2 1098 685.2 1102.4 Q686 1098 685.6 1094 Q685.4 1090 687.6 1088.4 Z" fill="#f3a21c"/>
<path d="M688 1090 Q688.6 1096 685.6 1101.4" stroke="#ffd060" stroke-width="0.7" fill="none"/>
</g>
<!-- clapperboard -->
<g>
<rect x="763" y="1074.8" width="46.6" height="42" rx="1.2" fill="#0e0e10"/>
<rect x="766.8" y="1082.6" width="38.8" height="31" fill="url(#clapScreen)"/>
<path d="M766.8 1082.6 H805.6 V1096 Q786 1100 766.8 1096 Z" fill="#ffffff" opacity="0.13"/>
<!-- stripes band -->
<g>
<clipPath id="bandClip"><rect x="772.6" y="1075.4" width="36.6" height="6"/></clipPath>
<g clip-path="url(#bandClip)"><rect x="772" y="1075" width="38" height="7" fill="#f4f4f4"/>
<path d="M772 1082 l4 -7 h4 l-4 7 Z M780.6 1082 l4 -7 h4 l-4 7 Z M789.2 1082 l4 -7 h4 l-4 7 Z M797.8 1082 l4 -7 h4 l-4 7 Z M806.4 1082 l4 -7 h4 l-4 7 Z" fill="#111"/></g>
</g>
<!-- arm -->
<g transform="translate(764.6 1071.2) rotate(-28.4)">
<clipPath id="armClip"><path d="M0 -3.2 H46.6 L48.6 3 H0 Z"/></clipPath>
<g clip-path="url(#armClip)"><rect x="0" y="-4" width="50" height="8" fill="#f4f4f4"/>
<path d="M-2 4 l4.4 -8 h4.4 l-4.4 8 Z M7.4 4 l4.4 -8 h4.4 l-4.4 8 Z M16.8 4 l4.4 -8 h4.4 l-4.4 8 Z M26.2 4 l4.4 -8 h4.4 l-4.4 8 Z M35.6 4 l4.4 -8 h4.4 l-4.4 8 Z M45 4 l4.4 -8 h4.4 l-4.4 8 Z" fill="#111"/></g>
</g>
<path d="M761.6 1068.6 L770 1066.4 L772.6 1070 L772.6 1079 L761.6 1079 Z" fill="#0e0e10"/>
<circle cx="785.6" cy="1097.6" r="7.8" fill="#fff"/>
<path d="M782.8 1092.6 L791.4 1097.6 L782.8 1102.6 Z" fill="#1c8fcb"/>
<path d="M757 1117.4 H816" stroke="#d9d2dc" stroke-width="1" opacity="0.8"/>
</g>

<!-- checkout illustration -->
<g>
<!-- floor shadow -->
<path d="M566 329 H803" stroke="#e9e2da" stroke-width="1.6" stroke-linecap="round"/>
<!-- ===== counter ===== -->
<path d="M631 274.5 H777.4 V328.4 H631 Z" fill="#b892f6"/>
<path d="M637.6 279.6 H775 L771 322.6 H640 Z" fill="#d3aafc"/>
<path d="M777.2 274.5 H794.8 V328.4 H777.2 Z" fill="#7c7af8"/>
<path d="M631 274.5 H794.8 V277.4 H631 Z" fill="#9f84f2" opacity="0.55"/>
<!-- counter top -->
<path d="M632.4 267.6 H792.6 Q796.6 267.6 796.6 271.6 Q796.6 275.6 792.6 275.6 H632.4 Q628.4 275.6 628.4 271.6 Q628.4 267.6 632.4 267.6 Z" fill="#e3e1db"/>
<path d="M779 267.6 H792.6 Q796.6 267.6 796.6 271.6 Q796.6 275.6 792.6 275.6 H779 Q783 271.6 779 267.6 Z" fill="#c5c1b9"/>
<!-- hanging bags -->
<rect x="646.6" y="284" width="41" height="2.4" rx="1" fill="#4a2e1c"/>
<path d="M652.8 286.4 H682.4 V318.2 H652.8 Z" fill="#6a7a1e"/>
<path d="M652.8 286.4 H656.4 V300 H652.8 Z M678.8 286.4 H682.4 V300 H678.8 Z" fill="#8a982e"/>
<path d="M656.8 285 H660.4 Q661 293 667 293.4 Q673 293 673.8 285 H677.4 V308 H656.8 Z" fill="#f6f2ee"/>
<path d="M656.8 304 H677.4 V308 H656.8 Z" fill="#e2dcd6"/>
<ellipse cx="667" cy="297.8" rx="4.6" ry="2.7" fill="#f29ae6"/>
<!-- rail -->
<path d="M711 288.2 H750.4 A12 12 0 0 1 750.4 312.2 H711" fill="none" stroke="#b08ae8" stroke-width="5" opacity="0.55" transform="translate(-1.2 1.6)"/>
<path d="M711 288.2 H750.4 A12 12 0 0 1 750.4 312.2 H711" fill="none" stroke="#f5f5f5" stroke-width="3.2"/>
<path d="M711 313.2 H750.4 A13 13 0 0 0 761 307" fill="none" stroke="#cfcfd4" stroke-width="1"/>
<rect x="707.4" y="289" width="5" height="22" fill="#dcdcdc"/>
<rect x="705.6" y="285" width="9.4" height="6" rx="2.4" fill="#3b2a1c"/>
<rect x="705.6" y="309.6" width="9.4" height="6.2" rx="2.4" fill="#3b2a1c"/>
<!-- ===== cash register ===== -->
<path d="M644.6 260.4 H672 L675.8 265.6 V267.2 H642.4 V265.6 Z" fill="#1c1c1e"/>
<path d="M658.4 236.8 L670.4 236.2 L671.6 258.6 L662 260.4 Z" fill="#5c3d18"/>
<path d="M650.2 249 H658.8 L657.8 260.4 H651.6 Z" fill="#ece9e4"/>
<path d="M644 238.6 L660.6 238 L659.2 253.6 L646.2 254 Z" fill="#efe8df"/><path d="M644 238.6 L660.6 238 L660.5 239.2 L644.2 239.8 Z" fill="#6a4a22"/>
<path d="M645.4 240 L659 239.4 L657.8 251.6 L647.2 252 Z" fill="url(#scrG)"/>
<rect x="655.2" y="232" width="1.6" height="6" fill="#7a5426"/>
<rect x="651.2" y="227.2" width="10" height="5.6" rx="2.2" fill="#d9923e"/>
<!-- ===== man ===== -->
<!-- shoes -->
<path d="M570.2 328.2 Q570.6 325 576 324.6 L581 324.6 L581 328.2 Z" fill="#4c5a1e"/>
<path d="M593 328.2 L593 324.6 L597.4 324.6 Q602.4 325.4 602.8 328.2 Z" fill="#4c5a1e"/>
<!-- pants -->
<path d="M577 271 L598.6 271 L597.2 300 L596.8 325 L591.2 325 L588.6 292 L582.6 325 L575.6 325 L576.4 296 Z" fill="#8a8f62"/>
<path d="M588.6 272 L598.6 271 L597.2 300 L596.8 325 L593.6 325 L592.6 292 Z" fill="#767c50"/>
<!-- back arm (left, hanging) -->
<path d="M570.6 231.6 Q564.6 236 564.2 248 Q563.6 266 570.4 281.6 L575.6 280 Q572.6 262 574.2 250 Z" fill="#5c6c18"/>
<!-- hoodie body -->
<path d="M571 231.4 Q577 229 580.6 228.6 L586.4 235.8 L591.6 229.2 Q596 230.4 599.4 234 Q600.6 252 598.8 271.6 Q588 275.6 575.8 271.6 Q574 252 571 231.4 Z" fill="#6b7b1f"/>
<path d="M580.6 228.6 L586.4 236.6 L591.6 229.2 L590.6 227.6 L586.4 232.6 L581.6 227.6 Z" fill="#83932f"/>
<path d="M586.4 236.6 V268" stroke="#56661a" stroke-width="0.7"/>
<path d="M578.6 262 Q586 256 596.4 261.4 L596.8 270 Q587 273.6 577.4 270 Z" fill="#5c6c18" opacity="0.7"/>
<path d="M575.8 269.6 Q588 273.8 598.8 269.6 L598.8 272.2 Q588 276.4 575.8 272.2 Z" fill="#8c9a30"/>
<!-- front arm -->
<path d="M594.6 233.2 Q600.4 235 601 241 L604.6 256.6 L618.6 244.4 L621.6 249.4 L606 264.4 Q601.4 266.6 599.4 262 L594 244 Z" fill="#6b7b1f"/>
<circle cx="620.6" cy="246.2" r="3" fill="#a9b4fb"/>
<!-- card -->
<g transform="rotate(-14 627.4 241.4)"><rect x="621" y="234.4" width="12.8" height="14.4" rx="0.8" fill="#2d9ea6"/>
<path d="M622.4 247.4 V244 Q624 240.4 627 241.6 Q629.4 238.8 632.4 242.6 V247.4 Z" fill="#f58be4"/></g>
<!-- neck + head -->
<path d="M580.6 224 H591.4 L591.4 229.4 L586.4 235 L580.8 228.8 Z" fill="#7b8ef2"/>
<ellipse cx="586.4" cy="217.4" rx="6.4" ry="8" fill="#7f93f4"/>
<path d="M578.8 212 Q578 206.6 583 206.6 Q587 204.8 592.4 206.4 Q596.4 207.4 594.8 211.4 Q590 209.6 584.6 211.4 Q581.4 212.6 580.8 217.4 L578.8 217 Z" fill="#4a4b8e"/>
<path d="M579.6 216.6 L581.6 216.6 Q582.4 222 586.4 221.6 Q589.4 220.6 591.6 221.6 L593 220 Q593.6 225.6 590.4 227.6 Q585.6 229.6 581.8 226.4 Q579.4 223 579.6 216.6 Z" fill="#4a4b8e"/>
<circle cx="586" cy="216.2" r="0.8" fill="#2a2b5e"/><circle cx="590.4" cy="216.2" r="0.8" fill="#2a2b5e"/>
<path d="M586.6 221.8 Q588.6 223.4 590.6 221.8" stroke="#fff" stroke-width="0.9" fill="none"/>
<!-- basket man -->
<path d="M564.6 293.6 L565.2 285.8 Q565.4 284 567.4 283.8 L583 282.8 Q585 282.8 585.4 284.6 L586.8 292.6" fill="none" stroke="#3a6cd6" stroke-width="1.5"/>
<path d="M575 292 L577.4 285.6 L582.4 290.4 Z" fill="#f29ae6"/>
<path d="M559.8 293.4 L589.4 292.4 L587 309.8 L563 310.6 Z" fill="#3c70da"/>
<path d="M559.8 293.4 L589.4 292.4 L589.2 294.6 L560.2 295.6 Z" fill="#2c58b8"/>
<g stroke="#dfe8fb" stroke-width="1.1"><path d="M565 298 V307 M568.4 298 V307 M571.8 298 V307 M575.2 298 V307 M578.6 298 V307 M582 298 V307 M585 298 V306.6"/></g>
<g stroke="#f29ae6" stroke-width="1"><path d="M566.8 300 V306 M577 300 V306 M583.4 300 V305"/></g>
<ellipse cx="574" cy="283.4" rx="3" ry="2.4" fill="#b4bdfc"/>
<!-- ===== cashier ===== -->
<!-- right arm -->
<path d="M715.6 243.6 L720.6 244.6 Q721.4 256 718.6 266.6 L714.6 266.6 Q716.4 254 715.6 243.6 Z" fill="#8496f2"/>
<!-- shirt -->
<path d="M697.4 231.4 Q693.4 233 692 246 L698 247.4 L699 267 H713.6 L714.4 247 L721 245.6 Q719.6 232.6 713.4 231 L708.6 229 L704.6 234 L701.6 229.2 Z" fill="#6b7b1f"/>
<!-- apron -->
<path d="M699.6 231.6 L701.6 231.2 L702.4 238 H708.4 L710 231 L712 231.6 L713.6 247 L713.4 267.4 H695.6 L697 247 Z" fill="url(#apronG)"/>
<!-- left arm w/ scanner -->
<path d="M692.4 244 L698 246.4 L693.6 254.8 Q690.6 257.4 687.6 254.4 L678.6 243.4 L682 240.4 L690.2 248.8 Z" fill="#8b9cf6"/>
<path d="M676.8 237 L681.2 236 L682 244 L678 244.6 Z" fill="#1b2f5e"/>
<rect x="673.6" y="230.2" width="9.8" height="6.4" rx="2.6" fill="#1c3566" transform="rotate(12 678.5 233.4)"/>
<rect x="675" y="232.4" width="5" height="1.6" rx="0.8" fill="#3f8ee8" transform="rotate(12 678.5 233.4)"/>
<circle cx="680" cy="241.4" r="2.3" fill="#aab6fb"/>
<!-- head -->
<path d="M697.6 216.6 Q697 208.2 704.8 208.2 Q713.6 208 713.6 217 Q713.4 222.6 715.4 226.4 Q714.6 229.6 710.6 229.4 L699.6 229.6 Q696.2 229.6 696.4 226.6 Q698 222.6 697.6 216.6 Z" fill="#1f6a4c"/>
<path d="M702.4 225 H707.6 L708.6 229.6 L704.8 234 L701.6 229.6 Z" fill="#7f91f0"/>
<path d="M700 214.6 Q704 211.8 709.6 214.6 L710 221 Q709 227 704.8 227 Q700.6 227 699.8 221 Z" fill="#8b9cf6"/>
<path d="M699.6 216 Q702 212.6 706 212.4 Q709 213 710.4 216.2 L710.8 212.6 Q705 208.6 699.4 212.6 Z" fill="#1f6a4c"/>
<circle cx="702.8" cy="218.4" r="0.75" fill="#1b2450"/><circle cx="707" cy="218.4" r="0.75" fill="#1b2450"/>
<path d="M703.4 222.6 Q705 223.8 706.6 222.6" stroke="#fff" stroke-width="0.8" fill="none"/>
<!-- ===== items on counter ===== -->
<path d="M729.6 246 H732.6 V249 Q734.6 251 734.6 254 V267.4 H727.6 V254 Q727.6 251 729.6 249 Z" fill="#2f8f3f"/>
<rect x="729.6" y="245.4" width="3" height="2.4" fill="#c9d2f6"/>
<rect x="736.4" y="251.8" width="16.4" height="15.6" fill="#e6be7e"/>
<path d="M738 254 H751" stroke="#f4dcae" stroke-width="1"/>
<path d="M733.6 261 H746.6 Q746.6 267.6 740 267.6 Q733.6 267.6 733.6 261 Z" fill="#3b88da"/>
<path d="M735 260.6 Q740 256.6 745.6 260.6 Z" fill="#f29ae6"/>
<path d="M748.6 255.6 Q748.4 253.6 750.6 253.6 H757.6 Q760 253.6 760 256 L760.8 267.6 H747.2 Z" fill="#e25ec4"/>
<path d="M748.6 255.6 Q748.4 253.6 750.6 253.6 H757.6 Q760 253.6 760 256 L760 257 H748.6 Z" fill="#c244a8"/>
<path d="M754.4 258.6 l1 2.2 2.4 .2 -1.8 1.6 .6 2.4 -2.2 -1.3 -2.2 1.3 .6 -2.4 -1.8 -1.6 2.4 -.2 Z" fill="#7a2a70"/>
<!-- basket on counter -->
<rect x="765" y="241" width="6.6" height="9" rx="1.6" fill="#f3a3e4"/><rect x="766.8" y="238.8" width="3" height="2.6" fill="#b9c4fa"/>
<path d="M775 249.6 L777.2 244.6 L785.6 246 L785.6 249.6 Z" fill="#dc9a48"/>
<path d="M768.6 250 L776 239.4 L784 250" fill="none" stroke="#3a6cd6" stroke-width="1.3"/>
<path d="M763 249.4 H788.8 L787.4 267.2 H764.6 Z" fill="#3c70da"/>
<path d="M763 249.4 H788.8 L788.6 251.6 H763.2 Z" fill="#2c58b8"/>
<g stroke="#dfe8fb" stroke-width="1.1"><path d="M767 254 V264 M770 254 V264 M773 254 V264 M776 254 V264 M779 254 V264 M782 254 V264 M785 254 V264"/></g>
<g stroke="#f29ae6" stroke-width="1"><path d="M768.5 256 V263 M780.5 256 V263 M783.6 256 V262"/></g>
<g stroke="#243a6e" stroke-width="0.9"><path d="M771.5 256 V263 M774.5 256 V263 M777.5 257 V263"/></g>
</g>

<!-- TTXVN logo -->
<g>
<circle cx="685" cy="1606.3" r="9.6" fill="none" stroke="#2c3f9c" stroke-width="1.5"/>
<text x="685" y="1612" font-size="16" font-weight="bold" fill="#2c3f9c" text-anchor="middle" textLength="7.4" lengthAdjust="spacingAndGlyphs">C</text>
<g font-weight="bold" font-size="28.6" stroke-linejoin="miter">
<text x="708.6" y="1619" fill="#3b53a8" stroke="#3b53a8" stroke-width="3.8" textLength="61" lengthAdjust="spacingAndGlyphs">TTX</text>
<text x="771" y="1619" fill="#e0202c" stroke="#e0202c" stroke-width="3" textLength="17.6" lengthAdjust="spacingAndGlyphs">V</text>
<text x="787.6" y="1619" fill="#3b53a8" stroke="#3b53a8" stroke-width="3.8" textLength="22.6" lengthAdjust="spacingAndGlyphs">N</text>
</g>
<ellipse cx="776.6" cy="1612.4" rx="12.2" ry="4.2" fill="none" stroke="#e0202c" stroke-width="0.9" transform="rotate(-16 776.6 1612.4)"/>
<circle cx="776.6" cy="1612.2" r="5.6" fill="#e9eef7" stroke="#9fb2d8" stroke-width="0.7"/>
<path d="M773.4 1610 Q776.6 1606.6 779.4 1610.4 Q780 1613.6 777 1615 Q774 1614.6 773.4 1610 Z" fill="#b9c8e6"/>
<path d="M765.4 1616 Q776 1618.6 788 1609.4" fill="none" stroke="#e0202c" stroke-width="0.9"/>
<text x="742.6" y="1626.8" font-size="8" font-weight="bold" fill="#d3212b" textLength="68.8" lengthAdjust="spacingAndGlyphs">Vietnam News Agency</text>
</g>

</svg></body></html>
